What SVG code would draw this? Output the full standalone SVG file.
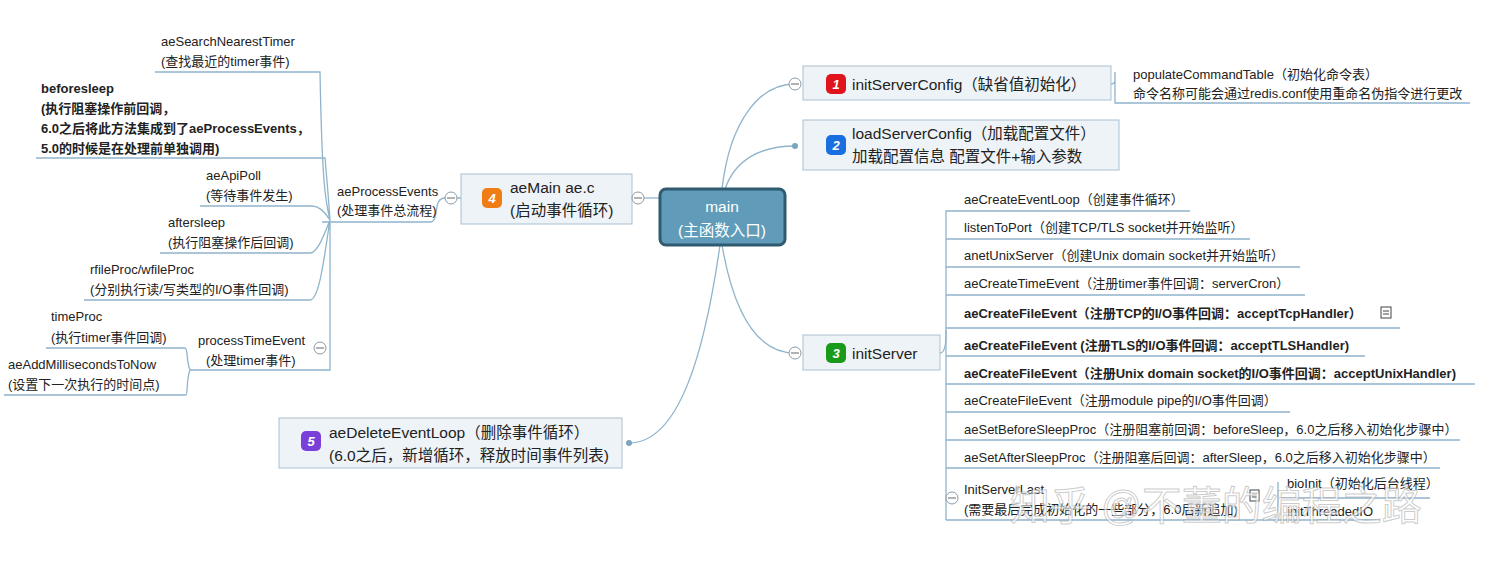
<svg xmlns="http://www.w3.org/2000/svg" width="1500" height="566" viewBox="0 0 1500 566">
<style>
text{font-family:"Liberation Sans","Noto Sans CJK SC",sans-serif;fill:#222;font-size:13px}
.m{font-size:15.5px}
.b{font-weight:bold}
.box{fill:#eef3f7;stroke:#a9c0d0;stroke-width:1}
.ln{fill:none;stroke:#8fb4cc;stroke-width:1.3}
.col{fill:#fff;stroke:#8a9aa6;stroke-width:1}
.bad{font-size:13px;fill:#fff;font-style:italic;font-weight:bold;text-anchor:middle}
</style>
<rect width="1500" height="566" fill="#fff"/>
<g id="connectors">
<path class="ln" d="M722 189 C730 120 760 84 795 84"/>
<path class="ln" d="M725 189 C735 160 760 146 795 146"/>
<path class="ln" d="M722 245 C735 320 760 353 795 353"/>
<path class="ln" d="M720 245 C705 350 680 443 629 443"/>
<path class="ln" d="M660 198 L644 198"/>
<path class="ln" d="M1111 84 C1116 84 1115 80 1115 72 L1115 103 L1470 103"/>
<path class="ln" d="M940 353 C946 353 946 340 946 330 L946 211 L1190 211"/>
<path class="ln" d="M946 330 L946 520"/>
<path class="ln" d="M946 239 L1250 239 M946 267 L1300 267 M946 295 L1305 295 M946 328 L1400 328 M946 356 L1365 356 M946 384 L1475 384 M946 412 L1290 412 M946 440 L1460 440 M946 468 L1440 468 M946 520 L1278 520"/>
<path class="ln" d="M1278 520 L1278 482 M1278 498 L1430 498 M1278 520 L1380 520"/>
<path class="ln" d="M461 198 L457 198 M445 198 C432 198 440 222 430 222 L322 222"/>
<path class="ln" d="M330 220 C325 200 322 180 320 72 L155 72 M330 220 C328 190 326 170 325 158 L36 158 M330 220 C325 212 318 206 312 206 L200 206 M330 220 C325 232 318 253 310 253 L160 253 M330 220 C325 250 320 300 310 300 L84 300 M330 222 L330 370 L190 370"/>
<path class="ln" d="M190 370 C186 360 188 348 185 348 L46 348 M190 370 C186 380 188 395 186 395 L4 395"/>
</g>
<g id="main"><rect x="660" y="189" width="125" height="56" rx="6" fill="#609cba" stroke="#2f5a70" stroke-width="3"/>
<text x="722" y="212" class="m" text-anchor="middle" style="fill:#fff">main</text>
<text x="722" y="236" class="m" text-anchor="middle" style="fill:#fff">(主函数入口)</text></g>
<g id="n1"><rect class="box" x="803" y="66" width="308" height="34"/><rect x="826" y="74" width="20" height="20" rx="5" fill="#e0141c"/><text class="bad" x="836" y="89">1</text>
<text class="m" x="852" y="90">initServerConfig（缺省值初始化）</text><circle class="col" cx="795" cy="84" r="6"/><path d="M791 84h8" stroke="#666"/></g>
<g id="n1a"><text x="1133" y="79">populateCommandTable（初始化命令表）</text><text x="1133" y="98">命令名称可能会通过redis.conf使用重命名伪指令进行更改</text></g>
<g id="n2"><rect class="box" x="803" y="120" width="316" height="50"/><rect x="826" y="135" width="20" height="20" rx="5" fill="#1a6fe0"/><text class="bad" x="836" y="150">2</text>
<text class="m" x="852" y="139">loadServerConfig（加载配置文件）</text><text class="m" x="852" y="162">加载配置信息 配置文件+输入参数</text><circle cx="795" cy="146" r="3" fill="#7aa4c0"/></g>
<g id="n3"><rect class="box" x="803" y="335" width="137" height="35"/><rect x="826" y="343" width="20" height="20" rx="5" fill="#1a9a1a"/><text class="bad" x="836" y="358">3</text>
<text class="m" x="852" y="359">initServer</text><circle class="col" cx="795" cy="353" r="6"/><path d="M791 353h8" stroke="#666"/></g>
<g id="n3c">
<text x="964" y="204">aeCreateEventLoop（创建事件循环）</text>
<text x="964" y="232">listenToPort（创建TCP/TLS socket并开始监听）</text>
<text x="964" y="260">anetUnixServer（创建Unix domain socket并开始监听）</text>
<text x="964" y="288">aeCreateTimeEvent（注册timer事件回调：serverCron）</text>
<text x="964" y="318" class="b">aeCreateFileEvent（注册TCP的I/O事件回调：acceptTcpHandler）</text>
<rect x="1381" y="307" width="10" height="11" fill="none" stroke="#444"/><path d="M1383 311h6M1383 314h6" stroke="#444"/>
<text x="964" y="350" class="b">aeCreateFileEvent (注册TLS的I/O事件回调：acceptTLSHandler)</text>
<text x="964" y="378" class="b">aeCreateFileEvent（注册Unix domain socket的I/O事件回调：acceptUnixHandler)</text>
<text x="964" y="405">aeCreateFileEvent（注册module pipe的I/O事件回调）</text>
<text x="964" y="434">aeSetBeforeSleepProc（注册阻塞前回调：beforeSleep，6.0之后移入初始化步骤中）</text>
<text x="964" y="462">aeSetAfterSleepProc（注册阻塞后回调：afterSleep，6.0之后移入初始化步骤中）</text>
<text x="964" y="494">InitServerLast</text><text x="964" y="514">(需要最后完成初始化的一些部分，6.0后新追加)</text>
<circle class="col" cx="952" cy="498" r="6"/><path d="M948 498h8" stroke="#666"/>
<rect x="1250" y="490" width="9" height="11" fill="none" stroke="#444"/><path d="M1252 494h5M1252 497h5" stroke="#444"/>
<text x="1287" y="488">bioInit（初始化后台线程）</text><text x="1287" y="516">initThreadedIO</text>
</g>
<g id="n4"><rect class="box" x="461" y="174" width="171" height="50"/><rect x="482" y="188" width="20" height="20" rx="5" fill="#f07d14"/><text class="bad" x="492" y="203">4</text>
<text class="m" x="510" y="193">aeMain ae.c</text><text class="m" x="510" y="216">(启动事件循环)</text>
<circle class="col" cx="638" cy="198" r="6"/><path d="M634 198h8" stroke="#666"/><circle class="col" cx="451" cy="198" r="6"/><path d="M447 198h8" stroke="#666"/></g>
<g id="n4c">
<text x="337" y="196">aeProcessEvents</text><text x="337" y="215">(处理事件总流程)</text>
<text x="161" y="46">aeSearchNearestTimer</text><text x="161" y="66">(查找最近的timer事件)</text>
<text x="41" y="93" class="b">beforesleep</text><text x="41" y="113" class="b">(执行阻塞操作前回调，</text><text x="41" y="133" class="b">6.0之后将此方法集成到了aeProcessEvents，</text><text x="41" y="153" class="b">5.0的时候是在处理前单独调用)</text>
<text x="206" y="180">aeApiPoll</text><text x="206" y="200">(等待事件发生)</text>
<text x="168" y="227">aftersleep</text><text x="168" y="247">(执行阻塞操作后回调)</text>
<text x="90" y="274">rfileProc/wfileProc</text><text x="90" y="294">(分别执行读/写类型的I/O事件回调)</text>
<text x="198" y="345">processTimeEvent</text><text x="206" y="365">(处理timer事件)</text>
<circle class="col" cx="320" cy="348" r="6"/><path d="M316 348h8" stroke="#666"/>
<text x="51" y="321">timeProc</text><text x="51" y="342">(执行timer事件回调)</text>
<text x="8" y="369">aeAddMillisecondsToNow</text><text x="8" y="389">(设置下一次执行的时间点)</text>
</g>
<g id="n5"><rect class="box" x="279" y="418" width="343" height="50"/><rect x="301" y="431" width="20" height="20" rx="5" fill="#7a3fd8"/><text class="bad" x="311" y="446">5</text>
<text class="m" x="329" y="438">aeDeleteEventLoop（删除事件循环）</text><text class="m" x="329" y="461">(6.0之后，新增循环，释放时间事件列表)</text><circle cx="629" cy="443" r="3" fill="#7aa4c0"/></g>
<text x="1010" y="520" style="font-size:40px;fill:#ffffff;fill-opacity:0.6;stroke:#999;stroke-width:1;stroke-opacity:0.5">知乎 @不董的编程之路</text>
</svg>
